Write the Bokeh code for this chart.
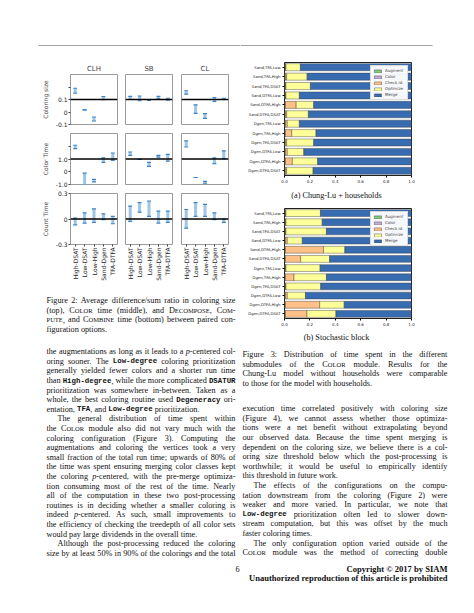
import math
from bokeh.plotting import figure
from bokeh.models import (Range1d, FactorRange, ColumnDataSource, FixedTicker, Span,
                          Legend, LegendItem)
from bokeh.layouts import row, column
from bokeh.embed import file_html
from bokeh.resources import INLINE
from bokeh.core.properties import value

# ---------------- Figure 2 data ----------------
pair_labels = ["High-DSAT", "Low-DSAT", "Low-High", "Sand-Dgen", "TFA-DTFA"]
graph_names = ["CLH", "SB", "CL"]
metric_names = ["Coloring size", "Color Time", "Count Time"]

size_clh_low = [0.150, 0.017, -0.072, 0.098, 0.100]
size_clh_high = [0.190, 0.017, -0.040, 0.124, 0.100]
size_sb_low = [0.100, 0.090, 0.095, 0.105, 0.095]
size_sb_high = [0.125, 0.128, 0.095, 0.125, 0.110]
size_cl_low = [0.143, -0.011, -0.051, 0.084, 0.100]
size_cl_high = [0.170, 0.057, -0.013, 0.116, 0.110]

ctime_clh_low = [1.82, -1.05, -0.80, 0.74, 0.90]
ctime_clh_high = [2.08, -0.10, -0.60, 1.10, 1.47]
ctime_sb_low = [1.29, 0.97, 0.42, 1.15, 0.84]
ctime_sb_high = [1.55, 0.97, 0.74, 1.29, 1.37]
ctime_cl_low = [1.94, -0.45, -0.90, 0.63, 1.03]
ctime_cl_high = [2.42, -0.45, -0.75, 1.10, 1.63]

count_clh_low = [-0.068, -0.048, -0.040, -0.008, -0.056]
count_clh_high = [0.012, 0.072, 0.120, 0.060, 0.032]
count_sb_low = [-0.028, 0.080, 0.032, -0.048, -0.040]
count_sb_high = [0.152, 0.192, 0.212, 0.092, 0.092]
count_cl_low = [-0.108, 0.032, 0.032, -0.008, -0.040]
count_cl_high = [0.112, 0.192, 0.172, 0.072, 0.000]

row_ranges = [(-0.1, 0.3), (-1.0, 3.0), (-0.3, 0.3)]
row_ticks = [[-0.1, 0, 0.1, 0.2], [-1, 0, 1, 2], [-0.3, 0, 0.3]]
row_tick_labels = [["-0.1", "0", "0.1", ""], ["-1.0", "0", "1.0", ""], ["-0.3", "0", "0.3"]]
ref_lines = [0.1, 1.0, 0.0]

# ---------------- Figure 3 data ----------------
cfg_labels = ["Sand,TFA,Low", "Sand,TFA,High", "Sand,TFA,DSAT", "Sand,DTFA,Low",
              "Sand,DTFA,High", "Sand,DTFA,DSAT", "Dgen,TFA,Low", "Dgen,TFA,High",
              "Dgen,TFA,DSAT", "Dgen,DTFA,Low", "Dgen,DTFA,High", "Dgen,DTFA,DSAT"]
seg_names = ["Augment", "Color", "Check id", "Optimize", "Merge"]
seg_colors = ["#7fc97f", "#beaed4", "#fdc086", "#ffff99", "#386cb0"]

clh_augment = [0.004, 0.004, 0.004, 0.004, 0.004, 0.004, 0.004, 0.004, 0.004, 0.004, 0.004, 0.004]
clh_color = [0.003, 0.003, 0.003, 0.003, 0.003, 0.003, 0.003, 0.003, 0.003, 0.003, 0.003, 0.003]
clh_check = [0.005, 0.010, 0.005, 0.005, 0.085, 0.010, 0.015, 0.050, 0.010, 0.015, 0.055, 0.010]
clh_optimize = [0.113, 0.161, 0.192, 0.105, 0.138, 0.171, 0.095, 0.191, 0.213, 0.130, 0.199, 0.208]
clh_merge = [0.875, 0.822, 0.796, 0.883, 0.770, 0.812, 0.883, 0.752, 0.770, 0.848, 0.739, 0.775]

sb_augment = [0.004, 0.004, 0.004, 0.004, 0.004, 0.004, 0.004, 0.004, 0.004, 0.004, 0.004, 0.004]
sb_color = [0.003, 0.003, 0.003, 0.003, 0.003, 0.003, 0.003, 0.003, 0.003, 0.003, 0.003, 0.003]
sb_check = [0.005, 0.005, 0.005, 0.015, 0.300, 0.120, 0.005, 0.068, 0.005, 0.015, 0.270, 0.170]
sb_optimize = [0.271, 0.285, 0.318, 0.118, 0.168, 0.228, 0.268, 0.255, 0.273, 0.143, 0.193, 0.228]
sb_merge = [0.717, 0.703, 0.670, 0.860, 0.525, 0.645, 0.720, 0.670, 0.715, 0.835, 0.530, 0.595]

bar_ticks = [0, 0.2, 0.4, 0.6, 0.8, 1.0]
bar_tick_labels = ["0.0", "0.2", "0.4", "0.6", "0.8", "1.0"]

# ---------------- page text ----------------
caption2_lines = [
    "Figure 2: Average difference/sum ratio in coloring size",
    "(top), ^Color time (middle), and ^Decompose, ^Com-",
    "^pute, and ^Combine time (bottom) between paired con-",
    "figuration options.$",
]
left_lines = [
    "the augmentations as long as it leads to a *p*-centered col-",
    "oring sooner. The `Low-degree` coloring prioritization",
    "generally yielded fewer colors and a shorter run time",
    "than `High-degree`, while the more complicated `DSATUR`",
    "prioritization was somewhere in-between. Taken as a",
    "whole, the best coloring routine used `Degeneracy` ori-",
    "entation, `TFA`, and `Low-degree` prioritization.$",
    ">The general distribution of time spent within",
    "the ^Color module also did not vary much with the",
    "coloring configuration (Figure 3). Computing the",
    "augmentations and coloring the vertices took a very",
    "small fraction of the total run time; upwards of 80% of",
    "the time was spent ensuring merging color classes kept",
    "the coloring *p*-centered, with the pre-merge optimiza-",
    "tion consuming most of the rest of the time. Nearly",
    "all of the computation in these two post-processing",
    "routines is in deciding whether a smaller coloring is",
    "indeed *p*-centered. As such, small improvements to",
    "the efficiency of checking the treedepth of all color sets",
    "would pay large dividends in the overall time.$",
    ">Although the post-processing reduced the coloring",
    "size by at least 50% in 90% of the colorings and the total",
]
caption3_lines = [
    "Figure 3: Distribution of time spent in the different",
    "submodules of the ^Color module. Results for the",
    "Chung-Lu model without households were comparable",
    "to those for the model with households.$",
]
right_lines = [
    "execution time correlated positively with coloring size",
    "(Figure 4), we cannot assess whether those optimiza-",
    "tions were a net benefit without extrapolating beyond",
    "our observed data. Because the time spent merging is",
    "dependent on the coloring size, we believe there is a col-",
    "oring size threshold below which the post-processing is",
    "worthwhile; it would be useful to empirically identify",
    "this threshold in future work.$",
    ">The effects of the configurations on the compu-",
    "tation downstream from the coloring (Figure 2) were",
    "weaker and more varied. In particular, we note that",
    "`Low-degree` prioritization often led to slower down-",
    "stream computation, but this was offset by the much",
    "faster coloring times.$",
    ">The only configuration option varied outside of the",
    "^Color module was the method of correcting double",
]
subcap_a = "(a) Chung-Lu + households"
subcap_b = "(b) Stochastic block"
page_number = "6"
footer_lines = ["Copyright \u00a9 2017 by SIAM",
                "Unauthorized reproduction of this article is prohibited"]

SANS = "DejaVu Sans"
SERIF = "Liberation Serif"
MONO = "Liberation Mono"


# ---------------- font metrics (Times-compatible) ----------------
def _tbl(s):
    d = {}
    for item in s.split():
        d[item[0]] = int(item[1:])
    return d


RM = _tbl("a444 b500 c444 d500 e444 f333 g500 h500 i278 j278 k500 l278 m778 n500 o500 p500 "
          "q500 r333 s389 t278 u500 v500 w722 x500 y500 z444 A722 B667 C667 D722 E611 F556 "
          "G722 H722 I333 J389 K722 L611 M889 N722 O722 P556 Q722 R667 S556 T611 U722 V722 "
          "W944 X722 Y722 Z611 .250 ,250 ;278 :278 -333 (333 )333 %833 /278 +564 \u00a9760")
BF = _tbl("a500 b556 c444 d556 e444 f333 g500 h556 i278 j333 k556 l278 m833 n556 o500 p556 "
          "q556 r444 s389 t333 u556 v500 w722 x500 y500 z444 A722 B667 C722 D722 E667 F611 "
          "G778 H778 I389 J500 K778 L667 M944 N722 O778 P611 Q778 R722 S556 T667 U722 V722 "
          "W1000 X722 Y722 Z667 .250 ,250 ;333 :333 -333 (333 )333 %1000 /278 \u00a9747")
RM[" "] = 250
BF[" "] = 250
STYLE_SCALE = {"rm": 1.0, "it": 1.0, "sc": 0.8, "tt": 0.9, "bf": 1.0}


def run_width(text, st, size):
    sz = size * STYLE_SCALE[st]
    if st == "tt":
        return 0.6 * sz * len(text)
    tbl = BF if st == "bf" else RM
    return sum(tbl.get(c, 500) for c in text) / 1000.0 * sz


def parse_token(tok):
    runs = []

    def add(c, st):
        if runs and runs[-1][1] == st:
            runs[-1][0] += c
        else:
            runs.append([c, st])

    if tok.startswith("^"):
        for ch in tok[1:]:
            if ch.islower():
                add(ch.upper(), "sc")
            else:
                add(ch, "rm")
        return runs
    cur = "rm"
    for ch in tok:
        if ch == "`":
            cur = "rm" if cur == "tt" else "tt"
            continue
        if ch == "*":
            cur = "rm" if cur == "it" else "it"
            continue
        add(ch, cur)
    return runs


def line_info(line):
    indent = line.startswith(">")
    just = not line.endswith("$")
    body = line.lstrip(">").rstrip("$")
    toks = [parse_token(t) for t in body.split()]
    return indent, just, toks


def fit_size(lines, width, indent_px):
    best = 8.2
    for ln in lines:
        indent, just, toks = line_info(ln)
        if not just:
            continue
        nat = sum(run_width(t, st, 1.0) for tk in toks for t, st in tk) + 0.2 * (len(toks) - 1)
        avail = width - (indent_px if indent else 0)
        best = min(best, avail / nat)
    return best


def place_lines(store, lines, x0, x1, y0, dy, size, indent_px=11):
    for i, ln in enumerate(lines):
        indent, just, toks = line_info(ln)
        y = y0 + i * dy + 0.27 * size
        widths = [sum(run_width(t, st, size) for t, st in tk) for tk in toks]
        start = x0 + (indent_px if indent else 0)
        if just and len(toks) > 1:
            gap = (x1 - start - sum(widths)) / (len(toks) - 1)
        else:
            gap = 0.25 * size
        x = start
        for tk, w in zip(toks, widths):
            for t, st in tk:
                store.setdefault(st, []).append((x, y, t))
                x += run_width(t, st, size)
            x += gap


def draw_store(p, store, size):
    fonts = {"rm": (SERIF, "normal"), "it": (SERIF, "italic"), "sc": (SERIF, "normal"),
             "tt": (MONO, "bold"), "bf": (SERIF, "bold")}
    for st, items in store.items():
        src = ColumnDataSource(dict(x=[a[0] for a in items], y=[a[1] for a in items],
                                    t=[a[2] for a in items]))
        f, s = fonts[st]
        p.text(x="x", y="y", text="t", source=src, text_font=value(f), text_font_style=s,
               text_font_size=value("%.2fpx" % (size * STYLE_SCALE[st])),
               text_baseline="alphabetic", text_align="left", text_color="#111111")


def text_fig(x0, x1, y0, y1):
    p = figure(width=x1 - x0, height=y1 - y0, x_range=Range1d(x0, x1), y_range=Range1d(y1, y0),
               min_border=0, x_axis_type=None, y_axis_type=None, output_backend="svg",
               toolbar_location=None, outline_line_color=None)
    p.grid.visible = False
    return p


# ---------------- Figure 2 subplots ----------------
def subplot(ri, ci, lows, highs):
    kw = dict(frame_width=47, frame_height=[50, 51, 51][ri],
              min_border_left=[70, 7, 8][ci], min_border_right=[1, 1, 12][ci],
              min_border_top=[19, 4, 4][ri], min_border_bottom=[5, 5, 48][ri],
              x_range=FactorRange(*pair_labels), y_range=Range1d(*row_ranges[ri]),
              output_backend="svg", toolbar_location=None)
    p = figure(**kw)
    if ri == 0:
        p.title.text = graph_names[ci]
        p.title.align = "center"
        p.title.text_font = SANS
        p.title.text_font_size = "7px"
        p.title.text_font_style = "normal"
        p.title.standoff = 3
        p.title.offset = 0
    p.grid.visible = False
    p.outline_line_color = "#9a9a9a"
    for ax in (p.xaxis[0], p.yaxis[0]):
        ax.axis_line_color = None
        ax.major_tick_in = 0
        ax.major_tick_out = 2
        ax.major_tick_line_color = "#444444"
        ax.major_label_text_font = SANS
        ax.major_label_standoff = 1
        ax.major_label_text_color = "#222222"
    xa = p.xaxis[0]
    if ri == 2:
        xa.major_label_text_font_size = "6px"
        xa.major_label_orientation = math.pi / 2
    else:
        xa.visible = False
    ya = p.yaxis[0]
    ya.minor_tick_out = 0
    ya.minor_tick_in = 0
    ya.ticker = FixedTicker(ticks=row_ticks[ri])
    ya.major_label_overrides = {t: l for t, l in zip(row_ticks[ri], row_tick_labels[ri])}
    if ci == 0:
        ya.major_label_text_font_size = "6px"
        ya.axis_label = metric_names[ri]
        ya.axis_label_text_font = SANS
        ya.axis_label_text_font_size = "6px"
        ya.axis_label_text_font_style = "normal"
        ya.axis_label_standoff = 4
    else:
        ya.visible = False
    src = ColumnDataSource(dict(x=pair_labels, lo=lows, hi=highs))
    p.segment(x0="x", y0="lo", x1="x", y1="hi", source=src, line_color="#9cc5e8", line_width=3)
    p.scatter(x="x", y="lo", source=src, marker="dash", size=4, line_color="#3d85c6", line_width=1.2)
    p.scatter(x="x", y="hi", source=src, marker="dash", size=4, line_color="#3d85c6", line_width=1.2)
    p.add_layout(Span(location=ref_lines[ri], dimension="width", line_color="black", line_width=1.3))
    return p


grid_data = [
    [(size_clh_low, size_clh_high), (size_sb_low, size_sb_high), (size_cl_low, size_cl_high)],
    [(ctime_clh_low, ctime_clh_high), (ctime_sb_low, ctime_sb_high), (ctime_cl_low, ctime_cl_high)],
    [(count_clh_low, count_clh_high), (count_sb_low, count_sb_high), (count_cl_low, count_cl_high)],
]
grid_rows = [row(*[subplot(ri, ci, *grid_data[ri][ci]) for ci in range(3)]) for ri in range(3)]


# ---------------- Figure 3 bar charts ----------------
def bar_chart(parts, fh, top, bottom):
    d = {"cfg": cfg_labels}
    for n, v in zip(seg_names, parts):
        d[n] = v
    src = ColumnDataSource(d)
    p = figure(y_range=FactorRange(*cfg_labels[::-1]), x_range=Range1d(0, 1),
               frame_width=127, frame_height=fh, min_border_left=44, min_border_right=47,
               min_border_top=top, min_border_bottom=bottom, output_backend="svg",
               toolbar_location=None)
    rs = p.hbar_stack(seg_names, y="cfg", height=0.75, fill_color=seg_colors, source=src,
                      line_color="#333333", line_width=0.4)
    leg = Legend(items=[LegendItem(label=n, renderers=[r]) for n, r in zip(seg_names, rs)],
                 location="top_right", label_text_font_size="4px", label_text_font=SANS,
                 glyph_height=4, glyph_width=9, label_height=4, spacing=1, padding=2, margin=3,
                 label_standoff=3, border_line_color="#bbbbbb")
    p.add_layout(leg)
    p.grid.visible = False
    p.outline_line_color = "#222222"
    for ax in (p.xaxis[0], p.yaxis[0]):
        ax.axis_line_color = None
        ax.major_tick_in = 0
        ax.major_tick_out = 2
        ax.minor_tick_out = 0
        ax.minor_tick_in = 0
        ax.major_label_standoff = 2
        ax.major_label_text_font = SANS
        ax.major_label_text_color = "#222222"
    p.xaxis[0].ticker = FixedTicker(ticks=bar_ticks)
    p.xaxis[0].major_label_overrides = {t: l for t, l in zip(bar_ticks, bar_tick_labels)}
    p.xaxis[0].major_label_text_font_size = "4px"
    p.yaxis[0].major_label_text_font_size = "3.8px"
    return p


chart_a = bar_chart([clh_augment, clh_color, clh_check, clh_optimize, clh_merge], 113, 4, 15)
chart_b = bar_chart([sb_augment, sb_color, sb_check, sb_optimize, sb_merge], 110, 4, 12)

# ---------------- text panels ----------------
LX0, LX1 = 46, 235
RX0, RX1 = 242, 447
S = min(fit_size(caption2_lines + left_lines, LX1 - LX0, 11),
        fit_size(caption3_lines + right_lines, RX1 - RX0, 11))

head_l = text_fig(0, 240, 0, 55)
head_l.segment(x0=[38], y0=[45], x1=[240], y1=[45], line_color="#8a8a8a", line_width=0.8)
head_r = text_fig(240, 458, 0, 58)
head_r.segment(x0=[240], y0=[45], x1=[432], y1=[45], line_color="#8a8a8a", line_width=0.8)

text_l = text_fig(0, 240, 292, 597)
store = {}
place_lines(store, caption2_lines, LX0, LX1, 298.0, 9.5, S)
place_lines(store, left_lines, LX0, LX1, 349.0, 9.6, S)
draw_store(text_l, store, S)
text_l.text(x=[237], y=[566 + 0.27 * S], text=[page_number], text_font=value(SERIF),
            text_font_size=value("%.2fpx" % S), text_align="center", text_baseline="alphabetic",
            text_color="#111111")

cap_a = text_fig(240, 458, 190, 204)
cap_a.text(x=[336], y=[193 + 0.27 * S], text=[subcap_a], text_font=value(SERIF),
           text_font_size=value("%.2fpx" % S), text_align="center", text_baseline="alphabetic",
           text_color="#111111")

text_r = text_fig(240, 458, 330, 597)
text_r.text(x=[336], y=[335 + 0.27 * S], text=[subcap_b], text_font=value(SERIF),
            text_font_size=value("%.2fpx" % S), text_align="center", text_baseline="alphabetic",
            text_color="#111111")
store = {}
place_lines(store, caption3_lines, RX0, RX1, 352.0, 9.5, S)
place_lines(store, right_lines, RX0, RX1, 406.0, 9.6, S)
draw_store(text_r, store, S)
fw = run_width(footer_lines[1], "bf", 1.0)
fs = (RX1 - 248) / fw
text_r.text(x=[RX1, RX1], y=[566 + 0.27 * fs, 575.5 + 0.27 * fs], text=footer_lines,
            text_font=value(SERIF), text_font_style="bold", text_font_size=value("%.2fpx" % fs),
            text_align="right", text_baseline="alphabetic", text_color="#111111")

left_col = column(row(head_l), *grid_rows, row(text_l))
right_col = column(row(head_r), row(chart_a), row(cap_a), row(chart_b), row(text_r))
page = row(left_col, right_col)

open("out.html", "w").write(file_html(page, INLINE))
